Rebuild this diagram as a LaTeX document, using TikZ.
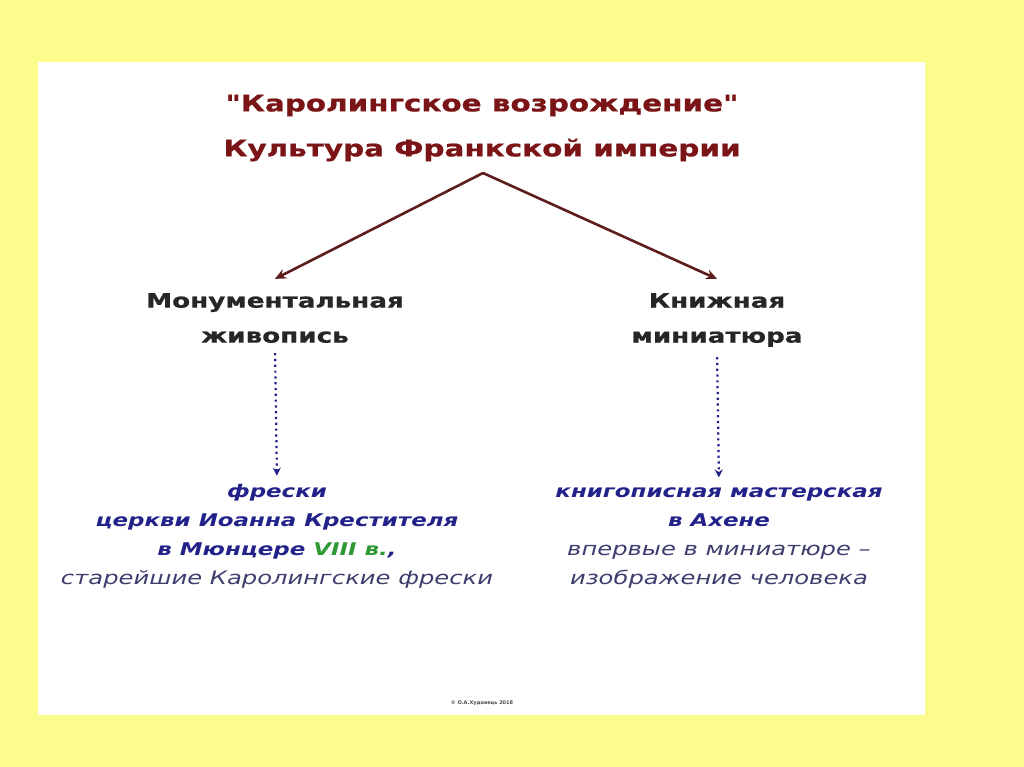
\documentclass[tikz,border=0pt]{standalone}
\usepackage{fontspec}
\setmainfont{DejaVu Sans}
\newfontfamily\breit[FakeStretch=1.28, BoldFeatures={FakeBold=0.8}]{DejaVu Sans}
\newfontfamily\mittel[FakeStretch=1.31, BoldFeatures={FakeBold=0.6}]{DejaVu Sans}
\usepackage{tikz}
\usetikzlibrary{positioning,arrows.meta}

\definecolor{gelb}{HTML}{FCFC8E}
\definecolor{titelrot}{HTML}{7A1416}
\definecolor{pfeilrot}{HTML}{5E1D1D}
\definecolor{tiefblau}{HTML}{22228A}
\definecolor{graublau}{HTML}{3E3E6E}
\definecolor{gruen}{HTML}{2E9A35}

\newcommand{\duenn}[1]{{\mdseries\fontsize{18.5}{29}\selectfont\textcolor{graublau}{#1}}}

\tikzset{
  titel/.style={align=center, text=titelrot, font=\breit\bfseries\fontsize{23}{45}\selectfont, inner sep=2pt},
  zweig/.style={align=center, text=black!85, font=\mittel\bfseries\fontsize{20}{35}\selectfont, inner sep=2pt},
  fakt/.style={align=center, text=tiefblau, font=\mittel\bfseries\itshape\fontsize{17.5}{29}\selectfont, inner sep=2pt},
  hauptpfeil/.style={draw=pfeilrot, line width=2.6pt, -{Stealth[length=11pt,width=10pt]}},
  punktpfeil/.style={draw=tiefblau, line width=2.2pt, dash pattern=on 2.2pt off 3.6pt, -{Stealth[length=8pt,width=8pt]}}
}

\begin{document}
\begin{tikzpicture}[x=1pt, y=-1pt] % 1 Pixel = 1pt

  % Hintergrund
  \fill[gelb] (0,0) rectangle (1024,767);
  \fill[white] (38,62) rectangle (925,715);
  \useasboundingbox (0,0) rectangle (1024,767);

  % Überschrift
  \node[titel] (titel) at (482,128) {{\char34}Каролингское возрождение{\char34}\\Культура Франкской империи};
  \coordinate (spitze) at (483,173);

  % Zwei Zweige
  \node[zweig] (monument) at (275,318) {Монументальная\\живопись};
  \node[zweig] (buch) at (717,320) {Книжная\\миниатюра};

  \draw[hauptpfeil] (spitze) -- ([yshift=12pt]monument.north);
  \draw[hauptpfeil] (spitze) -- ([yshift=12pt]buch.north);

  % Links: Fresken
  \node[fakt] (fresken) at (277,536) {фрески\\церкви Иоанна Крестителя\\в Мюнцере \textcolor{gruen}{VIII в.},\\
    \duenn{старейшие Каролингские фрески}};

  % Rechts: Werkstatt
  \node[fakt] (werkstatt) at (719,538) {книгописная мастерская\\в Ахене\\
    \duenn{впервые в миниатюре –}\\\duenn{изображение человека}};

  \draw[punktpfeil, shorten <=8pt, shorten >=6pt] (monument.south) -- (fresken.north);
  \draw[punktpfeil, shorten <=8pt, shorten >=8pt] (buch.south) -- (werkstatt.north);

  % Fußzeile
  \node[font=\bfseries\fontsize{5}{6}\selectfont, text=black!70] (copy) at (482,703) {© О.А.Худовець 2018};

\end{tikzpicture}
\end{document}
